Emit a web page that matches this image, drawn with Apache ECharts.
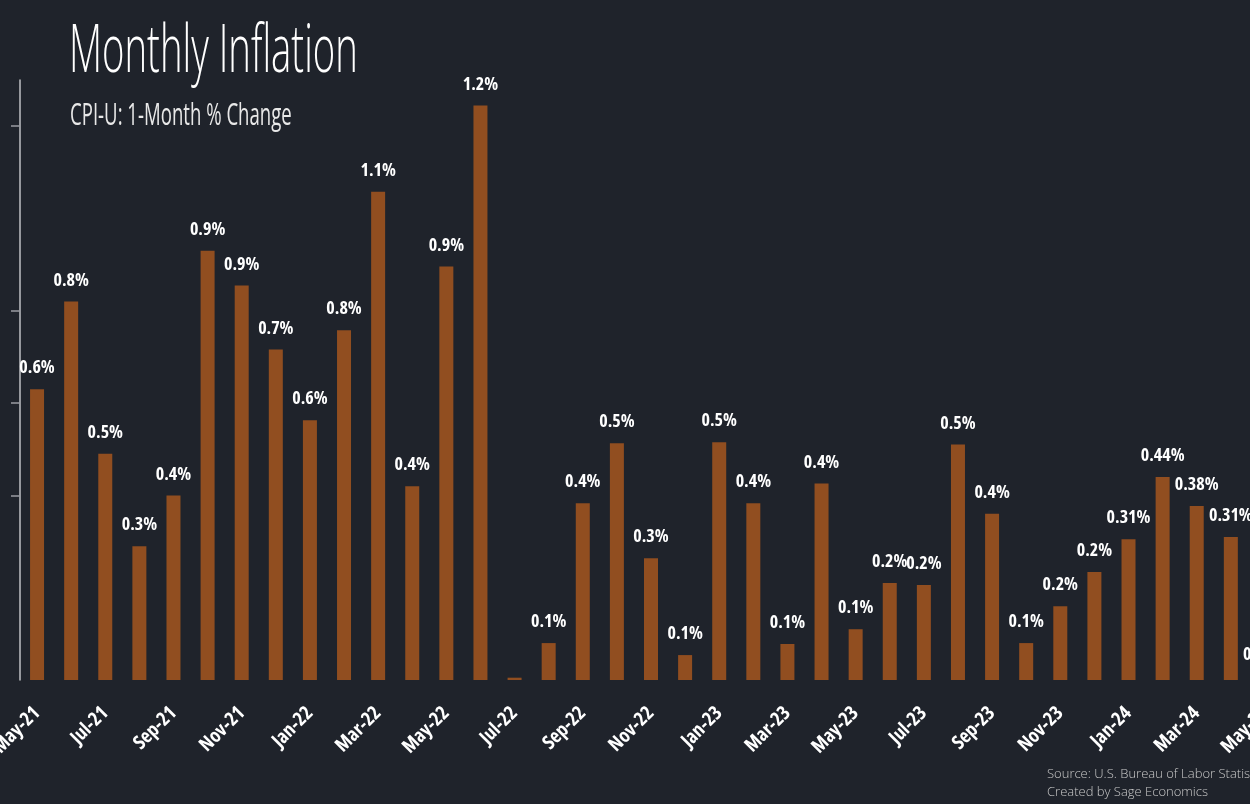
<!DOCTYPE html>
<html>
<head>
<meta charset="utf-8">
<script src="https://cdn.jsdelivr.net/npm/echarts@6/dist/echarts.min.js"></script>
<style>
html,body{margin:0;padding:0;background:#1f232b;}
#chart{width:1250px;height:804px;}
</style>
</head>
<body>
<div id="chart"></div>
<script>
const categories = ['May-21','Jun-21','Jul-21','Aug-21','Sep-21','Oct-21','Nov-21','Dec-21',
  'Jan-22','Feb-22','Mar-22','Apr-22','May-22','Jun-22','Jul-22','Aug-22','Sep-22','Oct-22','Nov-22','Dec-22',
  'Jan-23','Feb-23','Mar-23','Apr-23','May-23','Jun-23','Jul-23','Aug-23','Sep-23','Oct-23','Nov-23','Dec-23',
  'Jan-24','Feb-24','Mar-24','Apr-24','May-24'];
const values = [0.63,0.82,0.49,0.29,0.40,0.93,0.855,0.716,
  0.563,0.758,1.058,0.42,0.896,1.245,0.005,0.08,0.383,0.513,0.264,0.054,
  0.515,0.383,0.078,0.426,0.11,0.21,0.206,0.51,0.36,0.08,0.16,0.234,
  0.305,0.44,0.377,0.31,0.01];
const valueLabels = ['0.6%','0.8%','0.5%','0.3%','0.4%','0.9%','0.9%','0.7%',
  '0.6%','0.8%','1.1%','0.4%','0.9%','1.2%','','0.1%','0.4%','0.5%','0.3%','0.1%',
  '0.5%','0.4%','0.1%','0.4%','0.1%','0.2%','0.2%','0.5%','0.4%','0.1%','0.2%','0.2%',
  '0.31%','0.44%','0.38%','0.31%','0.01%'];
const yTicks = [0.4,0.6,0.8,1.2];

// use a condensed width if the installed face supports font-stretch
const cv = document.createElement('canvas').getContext('2d');
function mw(f){ cv.font = f; return cv.measureText('Monthly Inflation 0.6% Jul-21').width; }
let fam = '"Open Sans", sans-serif', stretch = false;
for (const n of ['Open Sans','Roboto','Noto Sans','DejaVu Sans']) {
  if (mw('bold condensed 40px "' + n + '"') < 0.92 * mw('bold 40px "' + n + '"')) { fam = '"' + n + '", sans-serif'; stretch = true; break; }
}
const W = (w) => stretch ? w + ' condensed' : w;
const LAB = stretch ? 18 : 14;
const AX = stretch ? 19.5 : 15;

const chart = echarts.init(document.getElementById('chart'));
chart.setOption({
  backgroundColor: '#1f232b',
  animation: false,
  graphic: [{
    type: 'text', x: 69, y: 20, scaleX: 0.58,
    style: {text: 'Monthly Inflation', fill: '#ffffff',
      font: '300 66px "Open Sans", sans-serif', verticalAlign: 'top'}
  },{
    type: 'text', x: 70, y: 101, scaleX: 0.6,
    style: {text: 'CPI-U: 1-Month % Change', fill: '#e8e8e8',
      font: 'normal 31px "Open Sans", sans-serif', verticalAlign: 'top'}
  },{
    type: 'text', left: 1047, top: 765,
    style: {text: 'Source: U.S. Bureau of Labor Statistics\nCreated by Sage Economics',
      fill: '#c8c8c8', font: '300 13px "Open Sans", sans-serif', lineHeight: 18}
  }],
  grid: {left: 20, top: 80, bottom: 124, width: 1262, outerBoundsMode: 'none', containLabel: false},
  xAxis: {
    type: 'category', data: categories,
    axisLine: {show: false}, axisTick: {show: false},
    axisLabel: {interval: 1, rotate: 45, margin: 30, color: '#ffffff',
      fontFamily: fam, fontWeight: W('bold'), fontSize: AX}
  },
  yAxis: {
    type: 'value', min: 0, max: 1.3,
    axisLine: {show: true, lineStyle: {color: '#bfc0c4', width: 1.5}},
    axisTick: {show: true, length: 9, customValues: yTicks, lineStyle: {color: '#9a9ca2', width: 1.5}},
    axisLabel: {show: false},
    splitLine: {show: false}
  },
  series: [{
    type: 'bar', data: values, barWidth: 14,
    itemStyle: {color: '#914e20'},
    label: {show: true, position: 'top', distance: 12, color: '#ffffff',
      fontFamily: fam, fontWeight: W('bold'), fontSize: LAB,
      formatter: p => valueLabels[p.dataIndex]}
  }]
});
</script>
</body>
</html>
